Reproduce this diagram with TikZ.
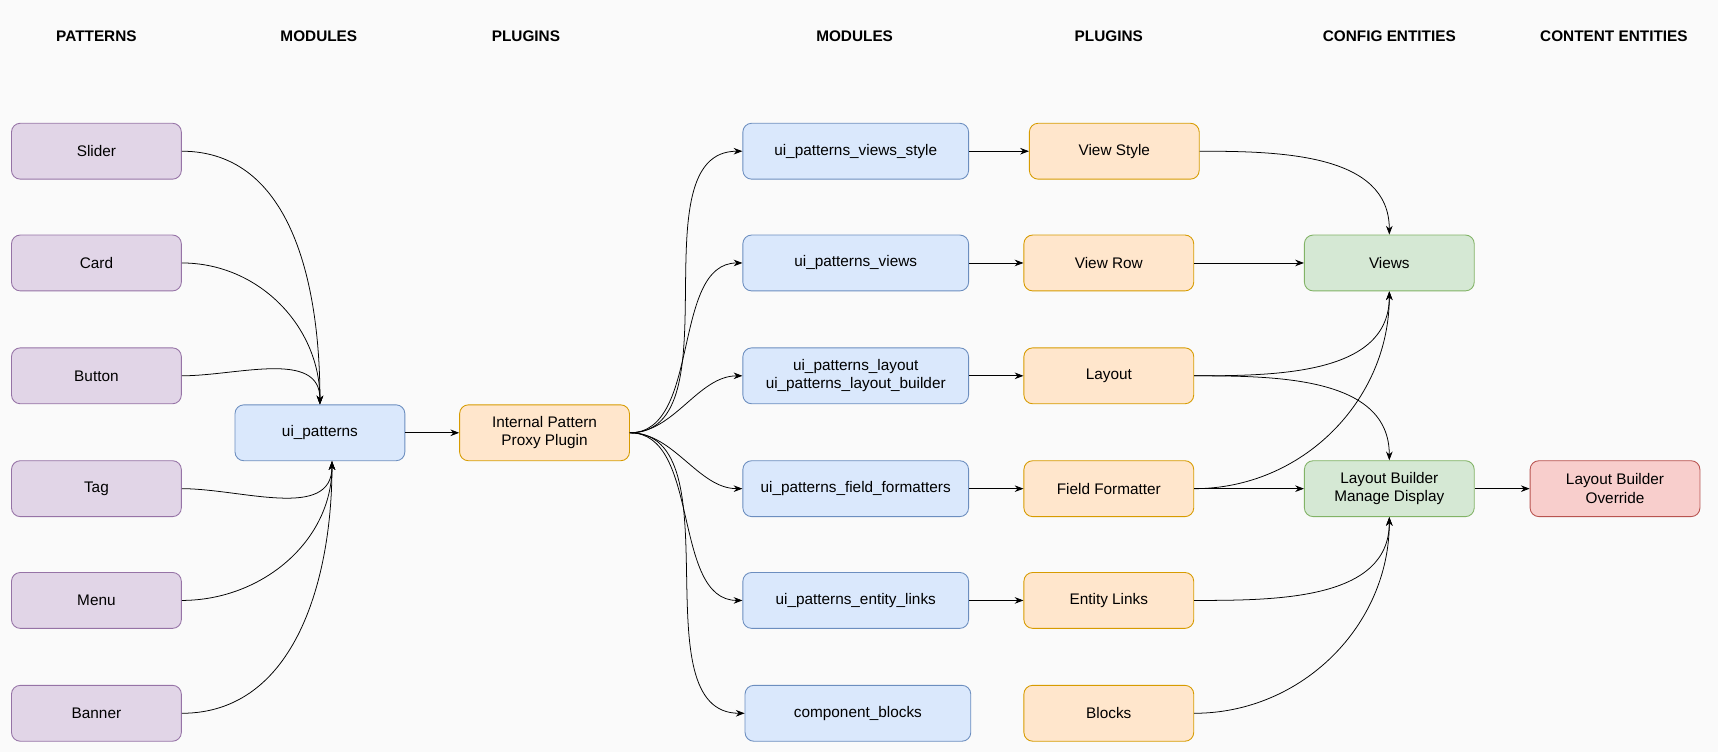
\documentclass[tikz,border=0pt]{standalone}
\usepackage{fontspec}
\setmainfont{Liberation Sans}
\usetikzlibrary{arrows.meta,positioning}
\definecolor{patfill}{HTML}{E1D5E7}\definecolor{patdraw}{HTML}{9673A6}
\definecolor{modfill}{HTML}{DAE8FC}\definecolor{moddraw}{HTML}{6C8EBF}
\definecolor{plgfill}{HTML}{FFE6CC}\definecolor{plgdraw}{HTML}{D79B00}
\definecolor{cfgfill}{HTML}{D5E8D4}\definecolor{cfgdraw}{HTML}{82B366}
\definecolor{cntfill}{HTML}{F8CECC}\definecolor{cntdraw}{HTML}{B85450}
\begin{document}
\begin{tikzpicture}[x=0.5pt, y=-0.5pt, font=\fontsize{7}{8.4}\selectfont,
    box/.style = {draw, rounded corners=4pt, line width=0.4pt, minimum width=77.5pt, minimum height=25.5pt, align=center, inner sep=1pt},
    pat/.style = {box, fill=patfill, draw=patdraw},
    mod/.style = {box, fill=modfill, draw=moddraw},
    wmod/.style = {mod, minimum width=103pt},
    plg/.style = {box, fill=plgfill, draw=plgdraw},
    cfg/.style = {box, fill=cfgfill, draw=cfgdraw},
    cnt/.style = {box, fill=cntfill, draw=cntdraw},
    head/.style = {font=\fontsize{7}{8.4}\selectfont\bfseries},
    link/.style = {-{Stealth[length=4pt,width=3pt]}, line width=0.35pt}]
      \fill[gray!4] (0,0) rectangle (1568,686);
      \useasboundingbox (0,0) rectangle (1568,686);
      % column headers
      \node[head] (h1) at (88,33) {PATTERNS};
      \node[head] (h2) at (291,33) {MODULES};
      \node[head] (h3) at (480,33) {PLUGINS};
      \node[head] (h4) at (780,33) {MODULES};
      \node[head] (h5) at (1012,33) {PLUGINS};
      \node[head] (h6) at (1268,33) {CONFIG ENTITIES};
      \node[head] (h7) at (1473,33) {CONTENT ENTITIES};
      % patterns
      \foreach \name/\txt/\y in {slider/Slider/138, card/Card/240, button/Button/343,
                                 tag/Tag/446, menu/Menu/548, banner/Banner/651}{
        \node[pat] (\name) at (88,\y) {\txt};
      }
      \node[mod] (uip) at (292,395) {ui\_patterns};
      \node[plg] (proxy) at (497,395) {Internal Pattern\\Proxy Plugin};
      % modules
      \node[wmod] (mstyle) at (781,138) {ui\_patterns\_views\_style};
      \node[wmod] (mviews) at (781,240) {ui\_patterns\_views};
      \node[wmod] (mlayout) at (781,343) {ui\_patterns\_layout\\ui\_patterns\_layout\_builder};
      \node[wmod] (mfield) at (781,446) {ui\_patterns\_field\_formatters};
      \node[wmod] (mlinks) at (781,548) {ui\_patterns\_entity\_links};
      \node[wmod] (mblocks) at (783,651) {component\_blocks};
      % plugins
      \node[plg] (pstyle) at (1017,138) {View Style};
      \node[plg] (prow) at (1012,240) {View Row};
      \node[plg] (playout) at (1012,343) {Layout};
      \node[plg] (pfield) at (1012,446) {Field Formatter};
      \node[plg] (plinks) at (1012,548) {Entity Links};
      \node[plg] (pblocks) at (1012,651) {Blocks};
      % entities
      \node[cfg] (views) at (1268,240) {Views};
      \node[cfg] (lbmd) at (1268,446) {Layout Builder\\Manage Display};
      \node[cnt] (lbo) at (1474,446) {Layout Builder\\Override};
      % connectors
      \foreach \src in {slider,card,button}{
        \draw[link] (\src.east) to[out=0,in=90] ([xshift=0pt]uip.north);
      }
      \foreach \src in {tag,menu,banner}{
        \draw[link] (\src.east) to[out=0,in=-90] ([xshift=5.5pt]uip.south);
      }
      \draw[link] (uip) -- (proxy);
      \foreach \dst in {mstyle,mviews,mlayout,mfield,mlinks,mblocks}{
        \draw[link] (proxy.east) to[out=0,in=180,looseness=0.9] (\dst.west);
      }
      \draw[link] (mstyle) -- (pstyle);
      \draw[link] (mviews) -- (prow);
      \draw[link] (mlayout) -- (playout);
      \draw[link] (mfield) -- (pfield);
      \draw[link] (mlinks) -- (plinks);
      \draw[link] (pstyle.east) to[out=0,in=90] (views.north);
      \draw[link] (prow) -- (views);
      \draw[link] (playout.east) to[out=0,in=-90] (views.south);
      \draw[link] (pfield.east) to[out=0,in=-90] (views.south);
      \draw[link] (playout.east) to[out=0,in=90] (lbmd.north);
      \draw[link] (pfield) -- (lbmd);
      \draw[link] (plinks.east) to[out=0,in=-90] (lbmd.south);
      \draw[link] (pblocks.east) to[out=0,in=-90] (lbmd.south);
      \draw[link] (lbmd) -- (lbo);
\end{tikzpicture}
\end{document}
